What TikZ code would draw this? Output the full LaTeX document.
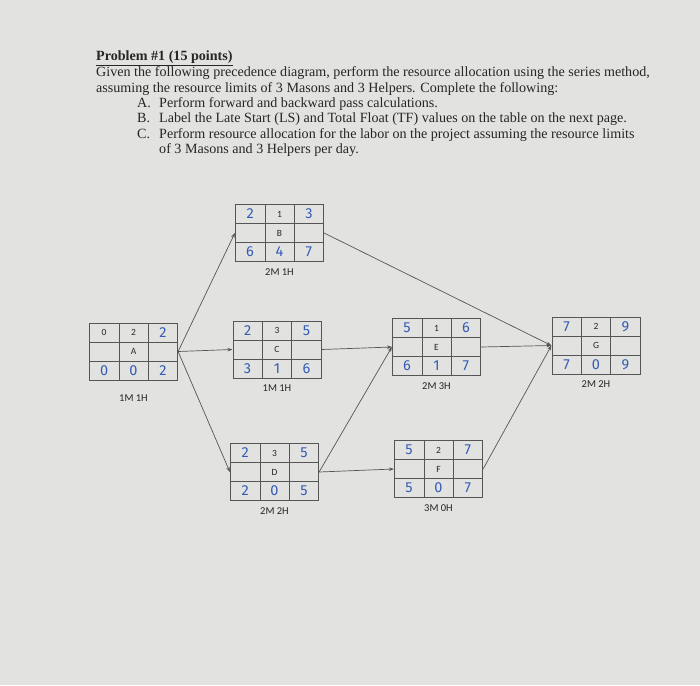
\documentclass[tikz,border=0pt]{standalone}
\usepackage{fontspec}
\setmainfont{Liberation Serif}
\newfontfamily\gridfont{Carlito}
\newfontfamily\penfont{Fira Sans}
\usepackage{tikz}
\usetikzlibrary{arrows.meta,positioning,matrix}

\definecolor{paper}{RGB}{226,226,224}
\definecolor{ink}{RGB}{38,38,38}
\definecolor{pen}{RGB}{52,92,182}
\definecolor{rule}{RGB}{85,85,85}

\begin{document}
\begin{tikzpicture}[x=1pt, y=-1pt,
  act/.style={matrix of nodes, nodes in empty cells, inner sep=0pt,
    column sep=-0.6pt, row sep=-0.6pt,
    nodes={draw=rule, line width=0.6pt, minimum width=29.4pt, minimum height=19pt,
      inner sep=0pt, anchor=center, text=ink, font=\gridfont\fontsize{9.5}{10}\selectfont}},
  hand/.style={text=pen, font=\penfont\fontsize{14.5}{15}\selectfont},
  res/.style={font=\gridfont\fontsize{10.5}{11}\selectfont, text=ink, inner sep=0pt},
  arrow/.style={-{Stealth[length=5pt,width=3.5pt]}, draw=rule, line width=0.7pt}
]
  \fill[paper] (0,0) rectangle (700,685);
  \useasboundingbox (0,0) rectangle (700,685);

  % problem statement
  \node[anchor=north west, inner sep=0pt, text=ink,
    font=\fontsize{14.1}{15.4}\selectfont] (task) at (96,50) {%
    \begin{tabular}{@{}l@{}}
      \underline{\textbf{Problem \#1 (15 points)}}\\
      Given the following precedence diagram, perform the resource allocation using the series method,\\
      assuming the resource limits of 3 Masons and 3 Helpers. Complete the following:\\
      \hspace*{41pt}\makebox[22pt][l]{A.}Perform forward and backward pass calculations.\\
      \hspace*{41pt}\makebox[22pt][l]{B.}Label the Late Start (LS) and Total Float (TF) values on the table on the next page.\\
      \hspace*{41pt}\makebox[22pt][l]{C.}Perform resource allocation for the labor on the project assuming the resource limits\\
      \hspace*{63pt}of 3 Masons and 3 Helpers per day.
    \end{tabular}};

  % activity boxes
  \node[act] (A) at (133.5,351.5) {
    0 & 2 & |[hand]| 2 \\
      & A & \\
    |[hand]| 0 & |[hand]| 0 & |[hand]| 2 \\
  };
  \node[act] (B) at (279.5,233) {
    |[hand]| 2 & 1 & |[hand]| 3 \\
      & B & \\
    |[hand]| 6 & |[hand]| 4 & |[hand]| 7 \\
  };
  \node[act] (C) at (277,349.5) {
    |[hand]| 2 & 3 & |[hand]| 5 \\
      & C & \\
    |[hand]| 3 & |[hand]| 1 & |[hand]| 6 \\
  };
  \node[act] (D) at (274.5,472) {
    |[hand]| 2 & 3 & |[hand]| 5 \\
      & D & \\
    |[hand]| 2 & |[hand]| 0 & |[hand]| 5 \\
  };
  \node[act] (E) at (436.5,347) {
    |[hand]| 5 & 1 & |[hand]| 6 \\
      & E & \\
    |[hand]| 6 & |[hand]| 1 & |[hand]| 7 \\
  };
  \node[act] (F) at (438.5,469) {
    |[hand]| 5 & 2 & |[hand]| 7 \\
      & F & \\
    |[hand]| 5 & |[hand]| 0 & |[hand]| 7 \\
  };
  \node[act] (G) at (596,345.5) {
    |[hand]| 7 & 2 & |[hand]| 9 \\
      & G & \\
    |[hand]| 7 & |[hand]| 0 & |[hand]| 9 \\
  };

  % crew sizes
  \node[res, below=14pt of A] (Ares) {1M 1H};
  \node[res, below=6pt of B] (Bres) {2M 1H};
  \node[res, below=6pt of C] (Cres) {1M 1H};
  \node[res, below=6pt of D] (Dres) {2M 2H};
  \node[res, below=6pt of E] (Eres) {2M 3H};
  \node[res, below=6pt of F] (Fres) {3M 0H};
  \node[res, below=6pt of G] (Gres) {2M 2H};

  \draw[arrow] (A.east) -- (B.west);
  \draw[arrow] (A.east) -- (C.west);
  \draw[arrow] (A.east) -- (D.west);
  \draw[arrow] (B.east) -- (G.west);
  \draw[arrow] (C.east) -- (E.west);
  \draw[arrow] (D.east) -- (E.west);
  \draw[arrow] (D.east) -- (F.west);
  \draw[arrow] (E.east) -- (G.west);
  \draw[arrow] (F.east) -- (G.west);
\end{tikzpicture}
\end{document}
